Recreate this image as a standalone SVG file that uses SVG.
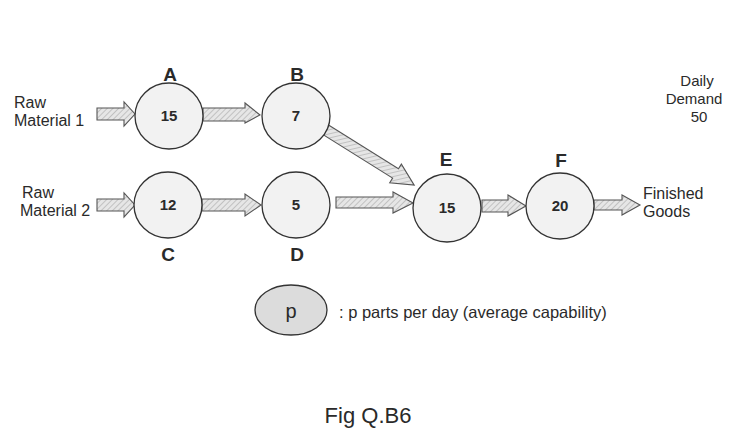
<svg xmlns="http://www.w3.org/2000/svg" width="753" height="448" viewBox="0 0 753 448">
<defs>
<pattern id="hatch" width="4" height="4" patternUnits="userSpaceOnUse" patternTransform="rotate(45)">
<rect width="4" height="4" fill="#e6e6e6"/>
<line x1="0" y1="0" x2="0" y2="4" stroke="#a8a8a8" stroke-width="1.2"/>
</pattern>
</defs>
<style>
.t{font-family:"Liberation Sans",Arial,sans-serif;fill:#2a2a2a}
.lbl{font-size:19px;font-weight:bold}
.num{font-size:15px;font-weight:bold}
.txt{font-size:16px}
.node{fill:#f2f2f2;stroke:#333;stroke-width:1.3}
.ar{fill:url(#hatch);stroke:#555;stroke-width:1.1}
</style>
<rect width="753" height="448" fill="#fff"/>
<g id="connectors">
<path class="ar" d="M97,108 L124,108 L124,102 L135,114 L124,126 L124,120 L97,120 Z"/>
<path class="ar" d="M203,108 L245,108 L245,103 L260,115 L245,123 L245,121 L203,121 Z"/>
<path class="ar" d="M97,199 L124,199 L124,193 L135,205 L124,217 L124,211 L97,211 Z"/>
<path class="ar" d="M202,199 L245,199 L245,194 L261,205 L245,216 L245,211 L202,211 Z"/>
<path class="ar" d="M0,-5.5 L82,-5.5 L82,-11 L104,0 L82,11 L82,5.5 L0,5.5 Z" transform="translate(326,130) rotate(32)"/>
<path class="ar" d="M336,197 L393,197 L393,192 L413,203 L393,213 L393,208 L336,208 Z"/>
<path class="ar" d="M482,200 L508,200 L508,195 L526,206 L508,216 L508,212 L482,212 Z"/>
<path class="ar" d="M594,200 L622,200 L622,195 L640,205 L622,215 L622,210 L594,210 Z"/>
</g>
<g id="A"><ellipse class="node" cx="169" cy="116" rx="34" ry="33"/><text class="t num" x="169" y="121" text-anchor="middle">15</text><text class="t lbl" x="170" y="81" text-anchor="middle">A</text></g>
<g id="B"><ellipse class="node" cx="296" cy="116" rx="34" ry="33"/><text class="t num" x="296" y="121" text-anchor="middle">7</text><text class="t lbl" x="297" y="81" text-anchor="middle">B</text></g>
<g id="C"><ellipse class="node" cx="168" cy="205" rx="34" ry="33"/><text class="t num" x="168" y="210" text-anchor="middle">12</text><text class="t lbl" x="168" y="261" text-anchor="middle">C</text></g>
<g id="D"><ellipse class="node" cx="296" cy="205" rx="34" ry="33"/><text class="t num" x="296" y="210" text-anchor="middle">5</text><text class="t lbl" x="297" y="261" text-anchor="middle">D</text></g>
<g id="E"><ellipse class="node" cx="447" cy="208" rx="34" ry="34"/><text class="t num" x="447" y="213" text-anchor="middle">15</text><text class="t lbl" x="446" y="166" text-anchor="middle">E</text></g>
<g id="F"><ellipse class="node" cx="560" cy="206" rx="34" ry="33"/><text class="t num" x="560" y="211" text-anchor="middle">20</text><text class="t lbl" x="561" y="167" text-anchor="middle">F</text></g>
<g id="raw1"><text class="t txt" x="14" y="108">Raw</text><text class="t txt" x="14" y="126">Material 1</text></g>
<g id="raw2"><text class="t txt" x="22" y="198">Raw</text><text class="t txt" x="20" y="216">Material 2</text></g>
<g id="finished"><text class="t txt" x="643" y="199">Finished</text><text class="t txt" x="643" y="217">Goods</text></g>
<g id="demand"><text class="t" font-size="15" x="697" y="86" text-anchor="middle">Daily</text><text class="t" font-size="15" x="694" y="104" text-anchor="middle">Demand</text><text class="t" font-size="15" x="699" y="122" text-anchor="middle">50</text></g>
<g id="legend"><ellipse cx="291" cy="310" rx="36" ry="25" fill="#dcdcdc" stroke="#333" stroke-width="1.3"/><text class="t" x="291" y="318" text-anchor="middle" font-size="20">p</text><text class="t" font-size="16.5" x="339" y="318">:  p parts per day (average capability)</text></g>
<text class="t" x="368" y="423" text-anchor="middle" font-size="22">Fig Q.B6</text>
</svg>
